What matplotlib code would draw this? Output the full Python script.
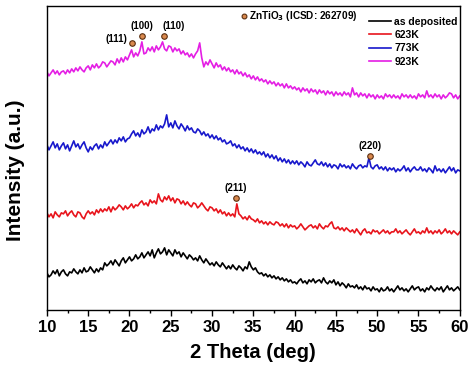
import numpy as np
import matplotlib.pyplot as plt

plt.rcParams['font.family'] = ['Liberation Sans', 'DejaVu Sans']
plt.rcParams['font.weight'] = 'bold'

# 2 theta scan grid (deg), 0.25 deg step
two_theta = np.arange(10, 60.001, 0.25)

# intensities (a.u., offset stacked), 4 points per degree
as_deposited = [37, 33, 35, 39, 36, 40, 34, 38, 40, 36, 34, 38, 37, 41, 38, 36, 40, 37, 42, 38,
                39, 43, 40, 37, 41, 38, 42, 40, 47, 44, 46, 49, 45, 50, 47, 44, 49, 52, 47, 50,
                53, 49, 51, 55, 51, 53, 57, 52, 55, 58, 54, 60, 52, 57, 61, 56, 58, 62, 55, 60,
                57, 54, 60, 56, 58, 53, 57, 54, 51, 55, 53, 50, 52, 49, 54, 50, 47, 51, 48, 45,
                47, 44, 48, 45, 43, 47, 44, 41, 44, 41, 45, 42, 40, 44, 42, 39, 43, 41, 48, 43,
                40, 42, 38, 36, 37, 34, 36, 33, 35, 32, 34, 31, 33, 30, 32, 29, 31, 28, 30, 27,
                28, 26, 29, 31, 27, 29, 26, 30, 28, 31, 27, 29, 30, 27, 32, 28, 26, 29, 27, 30,
                25, 28, 24, 27, 25, 22, 26, 23, 24, 22, 25, 21, 23, 20, 24, 21, 22, 19, 23, 20,
                21, 18, 22, 19, 20, 23, 19, 21, 18, 21, 24, 20, 22, 19, 21, 18, 21, 24, 20, 22,
                23, 19, 21, 18, 22, 20, 24, 21, 19, 22, 20, 23, 18, 21, 24, 20, 22, 19, 21, 23,
                20]
k623 = [97, 93, 96, 92, 98, 95, 93, 97, 96, 99, 94, 97, 99, 95, 93, 98, 97, 93, 91, 96,
        99, 96, 98, 95, 100, 97, 101, 98, 101, 99, 103, 98, 103, 100, 102, 105, 103, 100, 104, 101,
        103, 106, 102, 105, 104, 107, 109, 105, 107, 104, 110, 107, 109, 106, 116, 110, 108, 113, 110, 114,
        109, 112, 107, 111, 110, 106, 109, 105, 108, 105, 103, 107, 106, 102, 104, 107, 104, 101, 99, 103,
        102, 99, 101, 97, 100, 96, 98, 94, 97, 94, 96, 93, 106, 96, 94, 91, 93, 90, 94, 91,
        90, 88, 91, 87, 89, 86, 88, 85, 88, 86, 85, 88, 87, 84, 86, 83, 86, 82, 85, 83,
        84, 81, 83, 86, 83, 80, 82, 84, 85, 82, 84, 81, 86, 83, 81, 84, 83, 86, 88, 82,
        81, 83, 80, 82, 79, 82, 80, 78, 80, 77, 81, 78, 75, 79, 81, 77, 78, 76, 80, 78,
        79, 76, 78, 80, 77, 79, 76, 78, 78, 81, 77, 79, 76, 78, 80, 77, 75, 78, 81, 77,
        78, 76, 79, 77, 82, 77, 79, 76, 79, 77, 80, 76, 78, 81, 77, 79, 76, 79, 77, 75,
        78]
k773 = [165, 160, 164, 168, 162, 166, 160, 164, 167, 161, 165, 159, 164, 169, 163, 166, 161, 165, 168, 162,
        158, 163, 160, 164, 166, 161, 165, 162, 168, 164, 167, 170, 166, 170, 167, 172, 169, 173, 168, 171,
        172, 176, 179, 174, 177, 173, 180, 176, 178, 183, 177, 181, 179, 185, 180, 184, 182, 186, 195, 183,
        187, 182, 189, 184, 181, 186, 183, 179, 184, 180, 182, 178, 177, 181, 179, 175, 178, 174, 176, 172,
        175, 171, 174, 170, 172, 168, 170, 166, 167, 169, 164, 166, 162, 165, 161, 163, 159, 162, 158, 161,
        157, 160, 156, 158, 155, 158, 153, 156, 152, 155, 151, 154, 149, 152, 148, 151, 147, 150, 146, 149,
        146, 149, 145, 148, 146, 143, 148, 145, 144, 147, 150, 146, 145, 148, 144, 147, 143, 146, 142, 145,
        144, 141, 146, 143, 145, 142, 144, 141, 146, 143, 141, 144, 145, 142, 144, 143, 152, 143, 141, 144,
        145, 141, 143, 140, 143, 139, 142, 140, 142, 138, 141, 139, 141, 144, 139, 142, 138, 141, 143, 140,
        140, 143, 139, 141, 138, 142, 140, 137, 144, 139, 141, 138, 141, 137, 140, 143, 139, 142, 137, 140,
        139]
k923 = [238, 234, 237, 240, 236, 239, 235, 238, 239, 236, 240, 237, 241, 238, 242, 239, 243, 240, 238, 242,
        244, 240, 245, 242, 246, 242, 244, 248, 247, 243, 246, 249, 248, 245, 251, 247, 252, 248, 253, 250,
        255, 260, 253, 257, 254, 259, 268, 256, 257, 262, 259, 263, 258, 264, 260, 263, 268, 261, 259, 264,
        263, 258, 262, 259, 261, 256, 259, 255, 257, 253, 256, 252, 256, 259, 267, 252, 243, 248, 245, 250,
        246, 242, 247, 243, 245, 240, 243, 239, 242, 238, 240, 236, 240, 236, 238, 234, 237, 233, 235, 231,
        234, 230, 233, 229, 231, 228, 230, 226, 229, 226, 228, 224, 227, 224, 226, 222, 226, 222, 224, 221,
        223, 220, 222, 218, 222, 219, 221, 217, 221, 218, 220, 216, 220, 217, 219, 215, 219, 216, 218, 214,
        218, 215, 217, 214, 218, 215, 217, 213, 222, 215, 217, 213, 217, 214, 216, 212, 216, 213, 215, 211,
        215, 212, 214, 211, 216, 213, 215, 212, 215, 212, 214, 211, 216, 213, 215, 212, 215, 212, 214, 211,
        216, 213, 215, 212, 219, 213, 215, 212, 216, 213, 215, 211, 215, 212, 214, 217, 216, 212, 215, 211,
        214]

series = [as_deposited, k623, k773, k923]
labels = ['as deposited', '623K', '773K', '923K']
colors = ['black', '#e8141c', '#1818cc', '#e41ee4']

# ZnTiO3 reflections: label, 2theta, marker height
peak_hkl = ['(111)', '(100)', '(110)', '(211)', '(220)']
peak_pos = [20.3, 21.5, 24.2, 32.9, 49.1]
peak_h = [267, 274, 274, 112, 154]

fig = plt.figure(figsize=(4.74, 3.68), dpi=100)
ax = fig.add_axes([0.099, 0.158, 0.871, 0.826])

for y, lab, c in zip(series, labels, colors):
    ax.plot(two_theta, y, color=c, lw=1.2, label=lab)

ax.scatter(peak_pos, peak_h, s=16, facecolor='#d9894e', edgecolor='#5a2e10', lw=0.8, zorder=5)
for hkl, x, h in zip(peak_hkl, peak_pos, peak_h):
    if hkl == '(111)':
        ax.text(x - 0.5, h + 4, hkl, ha='right', va='center', fontsize=7)
    elif hkl == '(110)':
        ax.text(x - 0.2, h + 5, hkl, ha='left', va='bottom', fontsize=7)
    else:
        ax.text(x, h + 5, hkl, ha='center', va='bottom', fontsize=7)

# ZnTiO3 key at the top
ax.scatter([33.85], [294], s=12, facecolor='#d9894e', edgecolor='#5a2e10', lw=0.8)
ax.text(34.5, 294, 'ZnTiO$_\\mathbf{3}$ (ICSD: 262709)', ha='left', va='center', fontsize=7.2)

leg = ax.legend(loc='upper right', bbox_to_anchor=(1.005, 0.978), fontsize=7.5, frameon=False,
                handlelength=2.1, handletextpad=0.3, labelspacing=0.32, borderaxespad=0.0)

ax.set_xlim(10, 60)
ax.set_ylim(0, 304)
ax.set_xticks(np.arange(10, 61, 5))
ax.set_xticks(np.arange(12.5, 60, 5), minor=True)
ax.set_yticks([])
ax.tick_params(axis='x', direction='out', length=4, width=1, labelsize=12, pad=3)
ax.tick_params(axis='x', which='minor', direction='out', length=2.5, width=1)
for s in ax.spines.values():
    s.set_linewidth(1.0)
ax.set_xlabel('2 Theta (deg)', fontsize=14.5, fontweight='bold', labelpad=6)
ax.set_ylabel('Intensity (a.u.)', fontsize=15, fontweight='bold')
ax.yaxis.set_label_coords(-0.052, 0.46)

fig.savefig('out.png', dpi=100)
